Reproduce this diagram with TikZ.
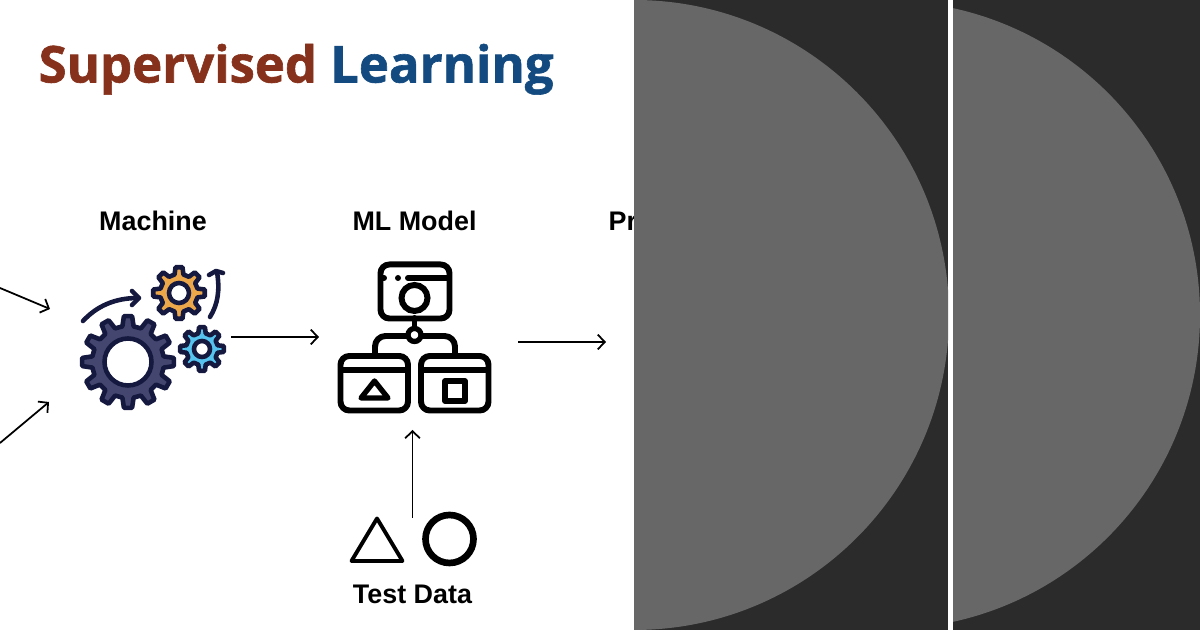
\documentclass[tikz,border=0pt]{standalone}
\usepackage{fontspec}
\setmainfont{Liberation Sans}
\newfontfamily\titlefont[BoldFeatures={FakeBold=1.2}]{Open Sans}
\usepackage{tikz}
\usetikzlibrary{positioning}
\usetikzlibrary{arrows.meta}
\definecolor{titlered}{HTML}{86311C}
\definecolor{titleblue}{HTML}{134A80}
\definecolor{darkpanel}{HTML}{2B2B2B}
\definecolor{greydisc}{HTML}{676767}
\definecolor{gearink}{HTML}{15193F}
\definecolor{gearbig}{HTML}{44466F}
\definecolor{gearorange}{HTML}{EDA74B}
\definecolor{gearblue}{HTML}{56C3EE}
\tikzset{
  caption/.style={font=\bfseries\fontsize{7.65}{9}\selectfont, text=black, inner sep=0pt},
  link/.style={line width=0.5pt, -{Straight Barb[length=2pt, width=4.2pt]}},
  iconline/.style={line width=1.7pt, draw=black, line join=round, line cap=round},
  gearline/.style={line width=1.3pt, draw=gearink, line join=round},
  turn/.style={line width=1.3pt, draw=gearink, line cap=round, line join=round},
}
% r1 outer radius, r2 root radius, n teeth
\newcommand{\gearpath}[3]{
  \pgfmathsetmacro{\tstep}{360/#3}
  \foreach \k in {1,...,#3}{
    \pgfmathsetmacro{\ta}{\k*\tstep}
    \pgfmathsetmacro{\tz}{\ta-0.30*\tstep}
    \ifnum\k=1 \xdef\gearacc{(\tz:#2)}\else
    \xdef\gearacc{\gearacc -- (\tz:#2)}\fi
    \pgfmathsetmacro{\tb}{\ta-0.17*\tstep}
    \pgfmathsetmacro{\tc}{\ta+0.17*\tstep}
    \pgfmathsetmacro{\td}{\ta+0.30*\tstep}
    \xdef\gearacc{\gearacc -- (\tb:#1) -- (\tc:#1) -- (\td:#2)}
  }
}
\newcommand{\drawgear}[6]{ % x, y, r1, r2, teeth, fill
  \begin{scope}[shift={(#1,#2)}]
    \gearpath{#3}{#4}{#5}
    \edef\gearrun{\noexpand\draw[gearline, fill=#6] \gearacc -- cycle;}
    \gearrun
  \end{scope}
}
\begin{document}
\begin{tikzpicture}[x=0.1mm, y=-0.1mm]
\useasboundingbox (0,0) rectangle (1200,630);

% title
\node[anchor=base west, inner sep=0pt, font=\titlefont\bfseries\fontsize{14.45}{16}\selectfont] (title) at (38,82.5) {\textcolor{titlered}{Supervised} \textcolor{titleblue}{Learning}};

% captions
\node[caption] (machinelabel) at (153,221) {Machine};
\node[caption] (modellabel) at (414.5,221) {ML Model};
\node[caption] (testlabel) at (412.5,594) {Test Data};
\node[caption, anchor=west] (predlabel) at (608,221) {Prediction};

% gears
\drawgear{128}{362}{46}{36}{12}{gearbig}
\drawgear{179}{293}{26}{19}{8}{gearorange}
\drawgear{202}{349}{22}{16}{8}{gearblue}
\node[circle, fill=white, draw=gearink, line width=1.3pt, minimum size=4.7mm, inner sep=0pt] (hub) at (128,362) {};
\node[circle, fill=white, draw=gearink, line width=1.3pt, minimum size=2mm, inner sep=0pt] (huborange) at (179,293) {};
\node[circle, fill=white, draw=gearink, line width=1.3pt, minimum size=1.6mm, inner sep=0pt] (hubblue) at (202,349) {};
\draw[turn] (83,321) .. controls (97,306) and (115,298) .. (138,298);
\draw[turn] (132,291) -- (139,298) -- (132,305);
\draw[turn] (210,317) .. controls (218,304) and (220,290) .. (217,272);
\draw[turn] (209,275) -- (216,271) -- (223,273);

% ml model icon
\draw[iconline, rounded corners=2.5pt] (380.5,264.5) rectangle (449.5,318.5);
\draw[iconline] (381,278) -- (384,278);
\draw[iconline] (408,278) -- (449,278);
\fill (398,278) circle (3);
\node[circle, draw, line width=1.7pt, minimum size=2.6mm, inner sep=0pt] (lens) at (414.5,298) {};
\draw[iconline] (414.5,318) -- (414.5,329);
\draw[iconline, rounded corners=3pt] (375,355) -- (375,336) -- (408,336);
\draw[iconline, rounded corners=3pt] (455,355) -- (455,336) -- (421,336);
\node[circle, draw, line width=1.5pt, fill=white, minimum size=1.3mm, inner sep=0pt] (joint) at (414.5,335) {};
\draw[iconline, rounded corners=2.5pt] (340.5,356) rectangle (408,410.5);
\draw[iconline, rounded corners=2.5pt] (421,356) rectangle (488.5,410.5);
\draw[iconline] (341,370) -- (408,370);
\draw[iconline] (421,370) -- (488,370);
\draw[line width=1.5pt, line join=round] (374.5,381) -- (388,398) -- (361,398) -- cycle;
\draw[line width=1.5pt, line join=round] (445,381) rectangle (465,401);

% test data shapes
\draw[line width=1.1pt, line join=round] (377,518.5) -- (402.5,561) -- (351.5,561) -- cycle;
\node[circle, draw, line width=1.9pt, minimum size=4.8mm, inner sep=0pt] (testcircle) at (449.5,539) {};

% connectors
\coordinate (inA) at (0,288);
\coordinate (inAend) at (50,309);
\coordinate (inB) at (0,443);
\coordinate (inBend) at (49,402);
\coordinate (gearout) at (231,337);
\coordinate (modelin) at (319,337);
\coordinate (modelout) at (518,342);
\coordinate (predin) at (606,342);
\coordinate (testout) at (412.5,518);
\coordinate (testin) at (412.5,430);
\draw[link] (inA) -- (inAend);
\draw[link] (inB) -- (inBend);
\draw[link] (gearout) -- (modelin);
\draw[link] (modelout) -- (predin);
\draw[link] (testout) -- (testin);

% overlay panels
\fill[darkpanel] (634,0) rectangle (948,630);
\fill[darkpanel] (953,0) rectangle (1200,630);
\begin{scope}
\clip (634,0) rectangle (948,630);
\fill[greydisc] (634,315) circle [radius=315];
\end{scope}
\begin{scope}
\clip (953,0) rectangle (1200,630);
\fill[greydisc] (886,315) circle [radius=314];
\end{scope}
\end{tikzpicture}
\end{document}
